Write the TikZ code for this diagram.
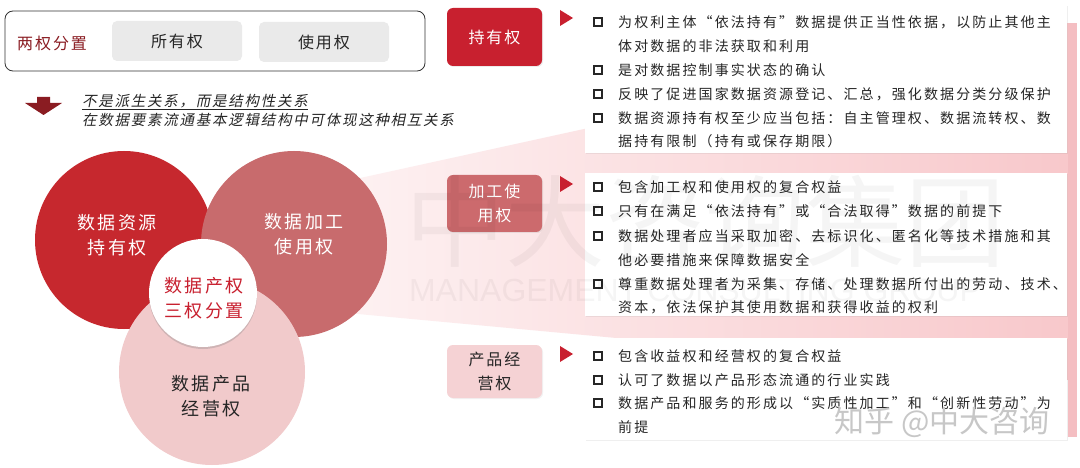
\documentclass[tikz,border=0pt]{standalone}
\usepackage{fontspec}
\setmainfont{Noto Sans CJK SC}
\newfontfamily\cjk{Noto Sans CJK SC}[LetterSpace=15]
\newfontfamily\cjkc{Noto Sans CJK SC}[LetterSpace=12]
\newfontfamily\cjkit{Noto Sans CJK SC}[FakeSlant=0.2,LetterSpace=12]
\newfontfamily\plain{Noto Sans CJK SC}
\newfontfamily\latin{Liberation Sans}
\usetikzlibrary{shadows}
\definecolor{crim}{HTML}{C8202F}
\definecolor{rosebox}{HTML}{CC6A6D}
\definecolor{blush}{HTML}{F5D2D4}
\definecolor{circA}{HTML}{C6282E}
\definecolor{circB}{HTML}{C86B6D}
\definecolor{circC}{HTML}{F1CACB}
\definecolor{darkred}{HTML}{8A1C22}
\definecolor{txt}{HTML}{262626}
\definecolor{wedgepink}{HTML}{F8C8CB}
\definecolor{barpink}{HTML}{F4BEC2}
\definecolor{grayb}{HTML}{EAEAEA}
\tikzset{
  every node/.style={inner sep=0pt},
  circ/.style={circle, minimum size=#1, inner sep=0pt},
  ctext/.style={font=\cjkc\fontsize{18}{25}\selectfont, align=center},
  lbl/.style={rounded corners=6pt, minimum width=95pt, font=\cjkc\fontsize{16}{24}\selectfont, align=center},
  panel/.style={fill=white, anchor=north west, drop shadow={opacity=0.12, shadow xshift=1pt, shadow yshift=-1pt}},
  ptxt/.style={font=\cjk\fontsize{14}{16}\selectfont, text=txt, anchor=west},
  bul/.style={draw=txt, line width=1.6pt, minimum size=8.5pt},
  tri/.style={fill=crim},
  grybox/.style={fill=grayb, rounded corners=5pt, minimum width=130pt, minimum height=40pt, font=\cjkc\fontsize{16}{20}\selectfont, text=txt},
  itl/.style={font=\cjkit\fontsize{14.5}{18}\selectfont, text=txt, anchor=west},
}
\begin{document}
\begin{tikzpicture}[x=1pt,y=-1pt]
\useasboundingbox (0,0) rectangle (1080,468);
\fill[white] (0,0) rectangle (1080,468);
% background wedge and bar
\shade[left color=white, right color=wedgepink] (100,235) -- (1068,23) -- (1068,380) -- (100,290) -- cycle;
\fill[barpink] (1068,23) rectangle (1077,437);

% top-left box
\draw[black!80, line width=0.8pt, rounded corners=8pt] (5,11) rectangle (425,71);
\node[font=\cjkc\fontsize{16}{20}\selectfont, text=darkred, anchor=west] (two) at (17,43) {两权分置};
\node[grybox] (own) at (177,41) {所有权};
\node[grybox] (use) at (324,42) {使用权};

% arrow + italic lines
\fill[darkred] (37,97) -- (50,97) -- (50,103) -- (62,103) -- (43.5,115) -- (25,103) -- (37,103) -- cycle;
\node[itl] (it1) at (82,101) {不是派生关系，而是结构性关系};
\node[itl] (it2) at (82,120) {在数据要素流通基本逻辑结构中可体现这种相互关系};
\draw[txt, line width=0.6pt] ([yshift=-1.5pt]it1.south west) -- ([yshift=-1.5pt]it1.south east);

% circles
\node[circ=178pt, fill=circA] (cA) at (124,240) {};
\node[circ=186pt, fill=circB] (cB) at (294,244) {};
\node[circ=186pt, fill=circC] (cC) at (212,372) {};
\node[circ=108pt, fill=white, drop shadow={opacity=0.3, shadow xshift=0pt, shadow yshift=-2pt}] (cM) at (203,293) {};
\node[ctext, text=white] (tA) at (117,235) {数据资源\\持有权};
\node[ctext, text=white] (tB) at (304,234) {数据加工\\使用权};
\node[ctext, text=txt] (tC) at (211,396) {数据产品\\经营权};
\node[ctext, text=crim] (tM) at (204,298) {数据产权\\三权分置};

% panels
\node[panel, minimum width=482pt, minimum height=148pt] (pn1) at (585,5) {};
\node[panel, minimum width=482pt, minimum height=143pt] (pn2) at (585,173) {};
\node[panel, minimum width=482pt, minimum height=102pt] (pn3) at (585,338) {};

% labels
\node[lbl, fill=crim, text=white, minimum height=58pt, drop shadow={opacity=0.15, shadow xshift=1pt, shadow yshift=-1pt}] (L1) at (494.5,37) {持有权};
\node[lbl, fill=rosebox, text=white, minimum height=57pt, drop shadow={opacity=0.15, shadow xshift=1pt, shadow yshift=-1pt}] (L2) at (494.5,203.5) {加工使\\用权};
\node[lbl, fill=blush, text=txt, minimum height=53pt, drop shadow={opacity=0.1, shadow xshift=1pt, shadow yshift=-1pt}] (L3) at (494.5,371.5) {产品经\\营权};

% triangles
\fill[tri] (560,10) -- (573,18) -- (560,26) -- cycle;
\fill[tri] (560,176) -- (573,184) -- (560,192) -- cycle;
\fill[tri] (560,346) -- (573,354) -- (560,362) -- cycle;

% panel 1 text
\foreach \yy/\tt [count=\i] in {22/{为权利主体“依法持有”数据提供正当性依据，以防止其他主},
  46/{体对数据的非法获取和利用},
  70/{是对数据控制事实状态的确认},
  94/{反映了促进国家数据资源登记、汇总，强化数据分类分级保护},
  118/{数据资源持有权至少应当包括：自主管理权、数据流转权、数},
  141/{据持有限制（持有或保存期限）}}
  \node[ptxt] (pa\i) at (618,\yy) {\tt};
\foreach \yy [count=\i] in {22,70,94,118} \node[bul] (ba\i) at (598,\yy) {};

% panel 2 text
\foreach \yy/\tt [count=\i] in {187/{包含加工权和使用权的复合权益},
  211/{只有在满足“依法持有”或“合法取得”数据的前提下},
  236/{数据处理者应当采取加密、去标识化、匿名化等技术措施和其},
  260/{他必要措施来保障数据安全},
  284/{尊重数据处理者为采集、存储、处理数据所付出的劳动、技术、},
  307/{资本，依法保护其使用数据和获得收益的权利}}
  \node[ptxt] (pb\i) at (618,\yy) {\tt};
\foreach \yy [count=\i] in {187,211,236,284} \node[bul] (bb\i) at (598,\yy) {};

% panel 3 text
\foreach \yy/\tt [count=\i] in {356/{包含收益权和经营权的复合权益},
  380/{认可了数据以产品形态流通的行业实践},
  403/{数据产品和服务的形成以“实质性加工”和“创新性劳动”为},
  427/{前提}}
  \node[ptxt] (pc\i) at (618,\yy) {\tt};
\foreach \yy [count=\i] in {356,380,403} \node[bul] (bc\i) at (598,\yy) {};

% faint overlay watermark
\node[font=\plain\fontsize{100}{100}\selectfont, text=black, opacity=0.04] (wm1) at (705,222) {中大咨询集团};
\node[font=\latin\fontsize{32}{32}\selectfont, text=black, opacity=0.04] (wm2) at (695,290) {MANAGEMENT CONSULTING GROUP};

% zhihu mark
\node[font=\plain\fontsize{30}{30}\selectfont, text=black!22, anchor=east] (zh) at (1050,422) {知乎 @中大咨询};
\end{tikzpicture}
\end{document}
